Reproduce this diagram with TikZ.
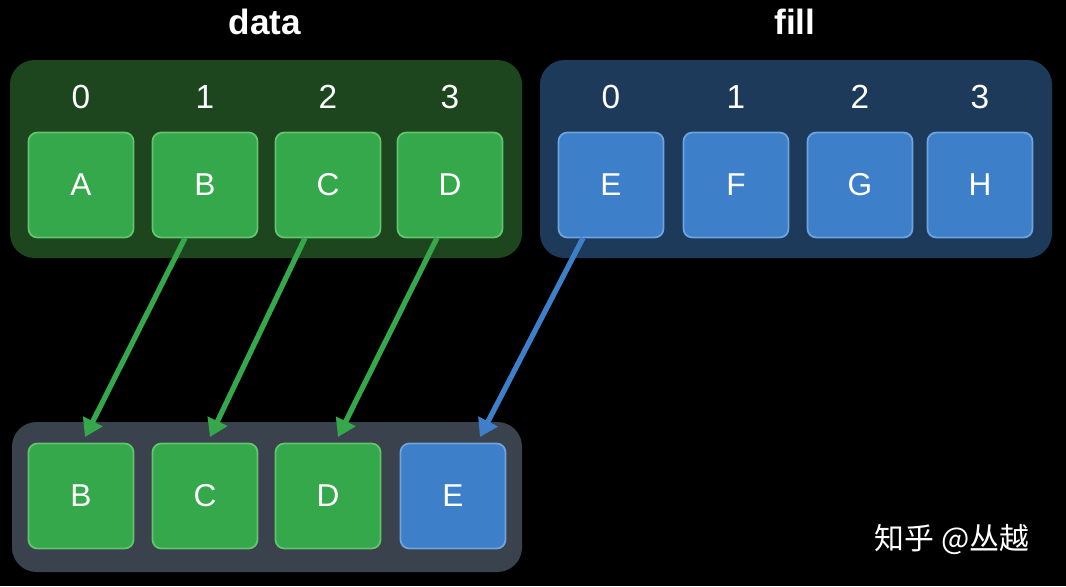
\documentclass[tikz,border=0pt]{standalone}
\usepackage{fontspec}
\setmainfont{Liberation Sans}
\newfontfamily\cjk{Noto Sans CJK SC}
\usetikzlibrary{positioning,arrows.meta}
\definecolor{gbox}{HTML}{34A84A}
\definecolor{gedge}{HTML}{62C46C}
\definecolor{bbox}{HTML}{3D7FC9}
\definecolor{bedge}{HTML}{6FA3DD}
\definecolor{gpanel}{HTML}{1D461F}
\definecolor{bpanel}{HTML}{1D3A5B}
\definecolor{kpanel}{HTML}{3A434D}
\tikzset{
  cell/.style={draw=#1edge, fill=#1box, line width=1pt, rounded corners=5pt,
    minimum width=2.1cm, minimum height=2.1cm, text=white, font=\fontsize{18}{18}\selectfont},
  idx/.style={text=white, font=\fontsize{19}{19}\selectfont},
  title/.style={text=white, font=\bfseries\fontsize{20}{20}\selectfont},
  link/.style={draw=#1box, line width=3pt, -{Triangle[length=10pt,width=12pt]}}
}
\begin{document}
\begin{tikzpicture}[x=0.02cm, y=-0.02cm]
    \fill[black] (0,0) rectangle (1066,586);
    \useasboundingbox (0,0) rectangle (1066,586);

    % panels
    \fill[gpanel, rounded corners=14pt] (10,60) rectangle (522,258);
    \fill[bpanel, rounded corners=14pt] (540,60) rectangle (1052,258);
    \fill[kpanel, rounded corners=14pt] (12,422) rectangle (522,572);

    \node[title] (tdata) at (265,22) {data};
    \node[title] (tfill) at (795,22) {fill};

    % source rows
    \foreach \n/\l/\x in {0/A/81, 1/B/205, 2/C/328, 3/D/450}{
        \node[idx] (di\n) at (\x,97) {\n};
        \node[cell=g] (d\n) at (\x,185) {\l};
    }
    \foreach \n/\l/\x in {0/E/611, 1/F/736, 2/G/860, 3/H/980}{
        \node[idx] (fi\n) at (\x,97) {\n};
        \node[cell=b] (f\n) at (\x,185) {\l};
    }

    % result row
    \node[cell=g] (r0) at (81,496) {B};
    \node[cell=g] (r1) at (205,496) {C};
    \node[cell=g] (r2) at (328,496) {D};
    \node[cell=b] (r3) at (453,496) {E};

    % arrows
    \coordinate (s1) at (185,238); \coordinate (e1) at (85,437);
    \coordinate (s2) at (305,238); \coordinate (e2) at (210,437);
    \coordinate (s3) at (437,238); \coordinate (e3) at (338,437);
    \coordinate (s4) at (583,238); \coordinate (e4) at (480,437);
    \draw[link=g] (s1) -- (e1);
    \draw[link=g] (s2) -- (e2);
    \draw[link=g] (s3) -- (e3);
    \draw[link=b] (s4) -- (e4);

    \node[text=white, font=\cjk\fontsize{17}{17}\selectfont] (mark) at (952,540) {知乎 @丛越};
\end{tikzpicture}
\end{document}
